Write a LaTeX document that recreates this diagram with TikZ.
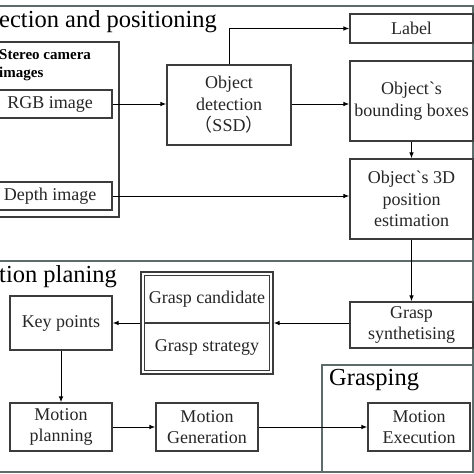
\documentclass[tikz,border=0pt]{standalone}
\usepackage{fontspec}
\setmainfont{Liberation Serif}
\newfontfamily\cjk{Noto Sans CJK SC}
\usetikzlibrary{arrows.meta,positioning,calc}
\definecolor{panelgray}{HTML}{5E6B6B}
\definecolor{boxgray}{HTML}{3C3C3C}
\tikzset{
 box/.style={draw=boxgray,line width=1.1pt,align=center,inner sep=2pt,
             text=black!85,font=\fontsize{18}{21.5}\selectfont},
 arrow/.style={-{Latex[length=6pt,width=4.5pt]},line width=1pt},
 panel/.style={draw=panelgray,line width=2.6pt},
 title/.style={inner sep=0pt,font=\fontsize{24.5}{28}\selectfont}
}

\begin{document}
\begin{tikzpicture}[x=1pt,y=-1pt]
\useasboundingbox (0,0) rectangle (474,474);
\clip (0,0) rectangle (474,474);
% panels
\draw[panel] (-10,6) rectangle (473,261);
\draw[panel] (-10,261) rectangle (473,472);
\draw[panel] (322,365) rectangle (473,472);
\node[title,anchor=west] (dettitle) at (-1,22) {ection and positioning};
\node[title,anchor=west] (plantitle) at (-1,277) {tion planing};
\node[title,anchor=west] (grasptitle) at (329,380) {Grasping};
% detection and positioning
\node[box,minimum width=131,minimum height=175] (stereo) at (53.5,129.5) {};
\node[anchor=west,align=left,inner sep=0pt,font=\fontsize{15}{18}\selectfont\bfseries] (stereotxt) at (-1,65) {Stereo camera\\images};
\node[box,minimum width=124,minimum height=28] (rgb) at (50,104) {RGB image};
\node[box,minimum width=124,minimum height=28] (depth) at (50,196) {Depth image};
\node[box,minimum width=124,minimum height=80] (detect) at (229,105) {Object\\detection\\{\cjk（}SSD{\cjk）}};
\node[box,minimum width=123,minimum height=29] (label) at (411.5,28.5) {Label};
\node[box,minimum width=123,minimum height=80] (bbox) at (411.5,101) {Object\textasciigrave s\\bounding boxes};
\node[box,minimum width=123,minimum height=80] (pos3d) at (411.5,199) {Object\textasciigrave s 3D\\position\\estimation};
% motion planing
\node[box,minimum width=123,minimum height=46] (synth) at (411.5,325) {Grasp\\synthetising};
\node[box,minimum width=132,minimum height=102] (grasp) at (207,323) {};
\draw[draw=boxgray,line width=1.1pt] ($(grasp.north west)+(4,4)$) rectangle ($(grasp.south east)+(-4,-4)$);
\draw[draw=boxgray,line width=1.1pt] ($(grasp.west)+(4,0)$) -- ($(grasp.east)+(-4,0)$);
\node[text=black!85,font=\fontsize{18}{21.5}\selectfont] (cand) at (207,299) {Grasp candidate};
\node[text=black!85,font=\fontsize{18}{21.5}\selectfont] (strat) at (207,347) {Grasp strategy};
\node[box,minimum width=102,minimum height=54] (keypts) at (61,323) {Key points};
\node[box,minimum width=102,minimum height=48] (mplan) at (61,427) {Motion\\planning};
\node[box,minimum width=102,minimum height=48] (mgen) at (207,427) {Motion\\Generation};
% grasping
\node[box,minimum width=102,minimum height=48] (mexec) at (419,427) {Motion\\Execution};
% connectors
\draw[arrow] (rgb.east) -- (rgb.east -| detect.west);
\draw[arrow] (detect.north) |- (label.west);
\draw[arrow] (detect.east |- rgb.east) -- (rgb.east -| bbox.west);
\draw[arrow] (depth.east) -- (depth.east -| pos3d.west);
\draw[arrow] (bbox.south) -- (pos3d.north);
\draw[arrow] (pos3d.south) -- (synth.north);
\draw[arrow] (synth.west |- grasp.east) -- (grasp.east);
\draw[arrow] (grasp.west) -- (keypts.east);
\draw[arrow] (keypts.south) -- (mplan.north);
\draw[arrow] (mplan.east) -- (mgen.west);
\draw[arrow] (mgen.east) -- (mexec.west);
\end{tikzpicture}
\end{document}
